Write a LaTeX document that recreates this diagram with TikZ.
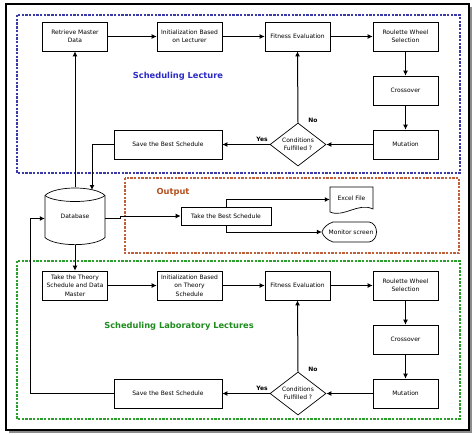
\documentclass[tikz,border=0pt]{standalone}
\usepackage{fontspec}
\setmainfont{DejaVu Sans}
\usetikzlibrary{shapes.geometric,arrows.meta}
\pgfdeclarelayer{base}
\pgfdeclarelayer{under}
\pgfsetlayers{base,under,main}
\definecolor{lecblue}{HTML}{2B2BC8}
\definecolor{dashblue}{HTML}{3A3AA8}
\definecolor{outbrown}{HTML}{B5501E}
\definecolor{dashbrown}{HTML}{C0603A}
\definecolor{labgreen}{HTML}{1E8C1E}
\definecolor{dashgreen}{HTML}{2AA02A}
\begin{document}
\begin{tikzpicture}[x=1pt,y=-1pt,
  box/.style={draw, line width=0.7pt, minimum width=65pt, minimum height=29pt, align=center, inner sep=1pt, fill=white, font=\fontsize{6}{8.3}\selectfont},
  widebox/.style={box, minimum width=108pt},
  cond/.style={draw, diamond, line width=0.7pt, minimum width=56pt, minimum height=43pt, aspect=1.3, inner sep=0pt, align=center, fill=white, font=\fontsize{6}{8.3}\selectfont},
  conn/.style={line width=1pt, -{Latex[length=5pt,width=5pt]}},
  lbl/.style={font=\bfseries\fontsize{6}{7}\selectfont},
  title/.style={font=\bfseries\fontsize{8.3}{10}\selectfont},
  region/.style={line width=1.2pt, dash pattern=on 2.4pt off 1.3pt},
  shp/.style={draw, line width=0.7pt, fill=white},
  txt/.style={font=\fontsize{6}{8.3}\selectfont}]
\useasboundingbox (0,0) rectangle (474,434);
\begin{pgfonlayer}{base}
\fill[white] (0,0) rectangle (474,434);
% outer frame with shadow
\fill[black!45] (9,7) rectangle (472,433);
\draw[line width=1.6pt, fill=white] (6,4) rectangle (469,430);
% dashed regions
\draw[region, dashblue] (17,15) rectangle (460,173);
\draw[region, dashbrown] (125,178) rectangle (459,253);
\draw[region, dashgreen] (17,261) rectangle (460,419);
\end{pgfonlayer}
% titles
\node[title, text=lecblue] (t1) at (178,76) {Scheduling Lecture};
\node[title, text=outbrown] (t2) at (173,192) {Output};
\node[title, text=labgreen] (t3) at (179,326) {Scheduling Laboratory Lectures};
% upper flow
\node[box] (r1) at (75,36.5) {Retrieve Master\\Data};
\node[box] (i1) at (189.5,36.5) {Initialization Based\\on Lecturer};
\node[box] (f1) at (297.5,36.5) {Fitness Evaluation};
\node[box] (w1) at (405.5,36.5) {Roulette Wheel\\Selection};
\node[box] (c1) at (405.5,90.5) {Crossover};
\node[box] (m1) at (405.5,144.5) {Mutation};
\node[cond] (d1) at (298,144.5) {Conditions\\Fulfilled ?};
\node[widebox] (s1) at (168,144.5) {Save the Best Schedule};
\node[lbl] (no1) at (313,120) {No};
\node[lbl] (yes1) at (262,139) {Yes};
% lower flow
\node[box] (r2) at (75,285.5) {Take the Theory\\Schedule and Data\\Master};
\node[box] (i2) at (189.5,285.5) {Initialization Based\\on Theory\\Schedule};
\node[box] (f2) at (297.5,285.5) {Fitness Evaluation};
\node[box] (w2) at (405.5,285.5) {Roulette Wheel\\Selection};
\node[box] (c2) at (405.5,339.5) {Crossover};
\node[box] (m2) at (405.5,393.5) {Mutation};
\node[cond] (d2) at (298,393.5) {Conditions\\Fulfilled ?};
\node[widebox] (s2) at (168,393.5) {Save the Best Schedule};
\node[lbl] (no2) at (313,369) {No};
\node[lbl] (yes2) at (262,388) {Yes};
% database
\draw[shp] (45,195.5) .. controls (55,185.5) and (95,185.5) .. (105,195.5)
  -- (105,237.5) .. controls (95,247) and (55,247) .. (45,237.5) -- cycle;
\draw[line width=0.7pt] (45,195.5) .. controls (55,203.5) and (95,203.5) .. (105,195.5);
\node[txt, minimum width=60pt, minimum height=57pt, inner sep=0pt] (db) at (75,216) {\raisebox{-3pt}{Database}};
% output
\node[txt, draw, line width=0.7pt, fill=white, minimum width=90pt, minimum height=18pt, inner sep=1pt] (tb) at (226,216) {Take the Best Schedule};
\draw[shp] (330,187) -- (373,187) -- (373,209) .. controls (358,202) and (344,218) .. (330,212) -- cycle;
\node[txt, minimum width=43pt, minimum height=25pt, inner sep=0pt] (ex) at (351.5,199.5) {\raisebox{2.5pt}{Excel File}};
\draw[shp] (333,222) -- (369,222) .. controls (379,223) and (379,241) .. (369,242) -- (333,242)
  .. controls (327,240) and (323,236) .. (322,232) .. controls (323,228) and (327,224) .. (333,222) -- cycle;
\node[txt, minimum width=55pt, minimum height=20pt, inner sep=0pt] (mo) at (349.5,232) {\hspace{3pt}Monitor screen};
% connectors upper
\draw[conn] (r1) -- (i1);
\draw[conn] (i1) -- (f1);
\draw[conn] (f1) -- (w1);
\draw[conn] (w1) -- (c1);
\draw[conn] (c1) -- (m1);
\draw[conn] (m1) -- (d1);
\draw[conn] (d1.north) -- (f1.south);
\draw[conn] (d1.west) -- (s1.east);
\coordinate (ka) at (92,190);
\draw[conn] (s1.west) -| (ka);
\draw[conn] (db.north) -- (r1.south);
% connectors lower
\draw[conn] (r2) -- (i2);
\draw[conn] (i2) -- (f2);
\draw[conn] (f2) -- (w2);
\draw[conn] (w2) -- (c2);
\draw[conn] (c2) -- (m2);
\draw[conn] (m2) -- (d2);
\draw[conn] (d2.north) -- (f2.south);
\draw[conn] (d2.west) -- (s2.east);
\draw[conn] (db.south) -- (r2.north);
\coordinate (kb) at (30,218.5);
\draw[conn] (s2.west) -| (kb) -- (db.west |- kb);
% database to output
\coordinate (kc) at (120,218.5);
\draw[conn] (db.east |- kc) -- (kc) |- (tb.west);
\begin{pgfonlayer}{under}
\draw[conn] (tb.center) |- (ex.west);
\draw[conn] (tb.center) |- (mo.west);
\end{pgfonlayer}
\end{tikzpicture}
\end{document}
